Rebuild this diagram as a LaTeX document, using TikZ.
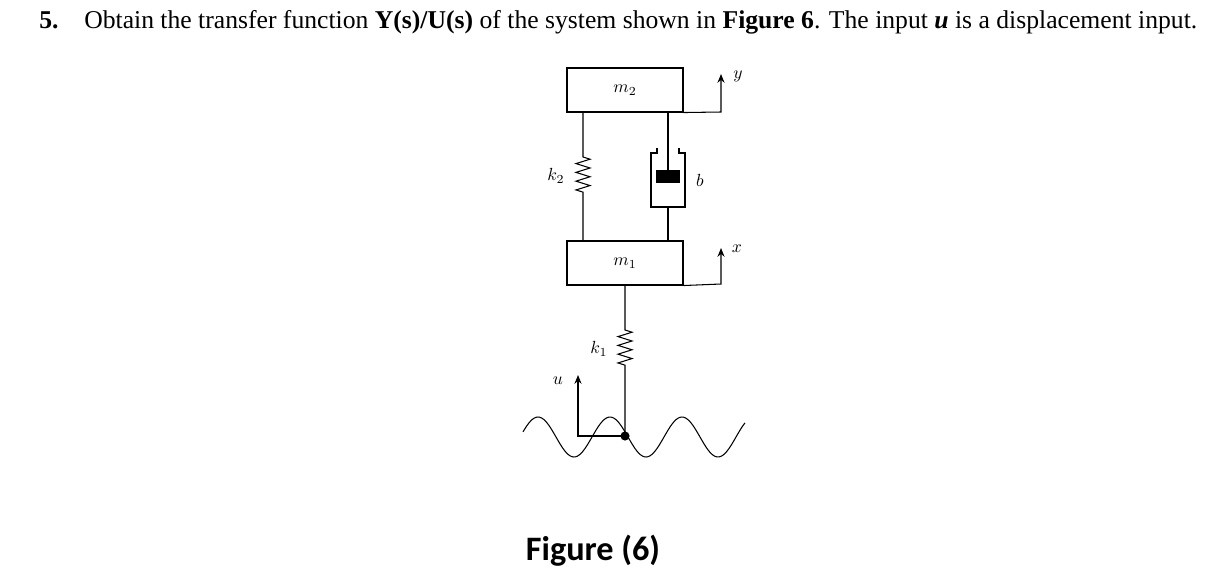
\documentclass[tikz,border=0pt]{standalone}
\usepackage{fontspec}
\setmainfont{Liberation Serif}
\newfontfamily\figfont{Carlito}
\usetikzlibrary{arrows.meta,decorations.pathmorphing}
\tikzset{
  mass/.style={draw, minimum width=116*0.02cm, minimum height=44*0.02cm, inner sep=0pt},
  spring/.style 2 args={decorate, decoration={zigzag, amplitude=4pt, segment length=5pt, pre length=#1, post length=#2}},
  disp/.style={-{Stealth[length=5pt,width=4pt]}},
  lbl/.style={font=\itshape}
}
\begin{document}
\begin{tikzpicture}[x=0.02cm, y=-0.02cm, line width=0.6pt]
  \useasboundingbox (0,0) rectangle (1219,582);
  \node[anchor=west, font=\fontsize{14.6}{16}\selectfont] (title) at (33,22)
    {\textbf{5.}\quad Obtain the transfer function \textbf{Y(s)/U(s)} of the system shown in \textbf{Figure 6}. The input \textbf{\textit{u}} is a displacement input.};

  % masses
  \node[mass] (m2) at (625,90) {$m_2$};
  \node[mass] (m1) at (625,263) {$m_1$};

  % spring k2
  \coordinate (k2top) at (583,112);
  \coordinate (k2bot) at (583,241);
  \draw[spring={45*0.02cm}{46*0.02cm}] (k2top) -- (k2bot);
  \node[lbl] (k2) at (556,176) {$k_2$};

  % damper b
  \coordinate (btop) at (668,112);
  \coordinate (bpist) at (668,176);
  \coordinate (bcyl) at (668,207);
  \coordinate (bbot) at (668,241);
  \draw (btop) -- (bpist);
  \draw (bbot) -- (bcyl);
  \draw (657,148) -- (657,153) -- (651,153) -- (651,207) -- (685,207) -- (685,153) -- (679,153) -- (679,148);
  \fill (656,170) rectangle (680,183);
  \node[lbl] (b) at (700,180) {$b$};

  % spring k1
  \coordinate (k1top) at (625,284);
  \coordinate (ground) at (625,436);
  \draw[spring={46*0.02cm}{68*0.02cm}] (k1top) -- (ground);
  \node[lbl] (k1) at (599,349) {$k_1$};

  % road
  \draw[domain=523:745, samples=120, smooth] plot (\x, {437-20*cos(5*(\x-610))});
  \fill (ground) circle (2.6pt);

  % displacements
  \coordinate (ybase) at (721,112);
  \coordinate (xbase) at (721,284);
  \coordinate (ubase) at (578,436);
  \draw[disp] (m2.south east) -- (ybase) -- (721,74);
  \draw[disp] (m1.south east) -- (xbase) -- (721,248);
  \draw[disp] (ground) -- (ubase) -- (578,375);
  \node[lbl] (ylbl) at (738,76) {$y$};
  \node[lbl] (xlbl) at (737,249) {$x$};
  \node[lbl] (ulbl) at (558,381) {$u$};

  \node[font=\figfont\bfseries\fontsize{19.5}{22}\selectfont] (fig) at (593,551) {Figure (6)};
\end{tikzpicture}
\end{document}
